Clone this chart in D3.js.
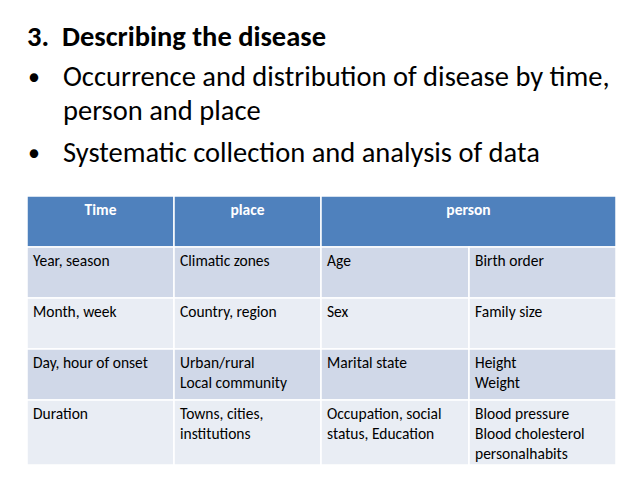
<!DOCTYPE html>
<html lang="en">
<head>
<meta charset="UTF-8">
<title>Describing the disease</title>
<script src="https://cdn.jsdelivr.net/npm/d3@7"></script>
<style>
 body { margin: 0; background: #fff; }
 text { font-family: Carlito, "Open Sans", "Liberation Sans", sans-serif; }
</style>
</head>
<body>
<script>
var headers = ["Time", "place", "person"];
var rows = [
  ["Year, season", "Climatic zones", "Age", "Birth order"],
  ["Month, week", "Country, region", "Sex", "Family size"],
  ["Day, hour of onset", "Urban/rural\nLocal community", "Marital state", "Height\nWeight"],
  ["Duration", "Towns, cities,\ninstitutions", "Occupation, social\nstatus, Education", "Blood pressure\nBlood cholesterol\npersonalhabits"]
];
var colEdges = [27, 174, 321, 469, 616];
var rowEdges = [196, 247, 298, 349, 400, 465];

var svg = d3.select("body").append("svg").attr("width", 638).attr("height", 478);

svg.append("text").attr("x", 27).attr("y", 46).attr("font-size", 28.5).attr("font-weight", "bold")
  .attr("fill", "#000").attr("xml:space", "preserve").text("3.  Describing the disease");
var bullets = [
  {y: 86, lines: ["Occurrence and distribution of disease by time,", "person and place"]},
  {y: 162, lines: ["Systematic collection and analysis of data"]}
];
bullets.forEach(function(b){
  svg.append("text").attr("x", 28).attr("y", b.y - 1).attr("font-size", 24).text("\u2022");
  b.lines.forEach(function(l, i){
    svg.append("text").attr("x", 63).attr("y", b.y + i * 34).attr("font-size", 28.5).text(l);
  });
});

var headerSpans = [[0, 1], [1, 2], [2, 4]];
headerSpans.forEach(function(s, i){
  svg.append("rect").attr("x", colEdges[s[0]]).attr("y", rowEdges[0])
    .attr("width", colEdges[s[1]] - colEdges[s[0]]).attr("height", rowEdges[1] - rowEdges[0])
    .attr("fill", "#4f81bd").attr("stroke", "#fff").attr("stroke-width", 1.5);
  svg.append("text").attr("x", (colEdges[s[0]] + colEdges[s[1]]) / 2).attr("y", rowEdges[0] + 19)
    .attr("text-anchor", "middle").attr("font-size", 15.5).attr("font-weight", "bold")
    .attr("fill", "#fff").text(headers[i]);
});

rows.forEach(function(r, ri){
  var y0 = rowEdges[ri + 1], y1 = rowEdges[ri + 2];
  r.forEach(function(c, ci){
    svg.append("rect").attr("x", colEdges[ci]).attr("y", y0)
      .attr("width", colEdges[ci + 1] - colEdges[ci]).attr("height", y1 - y0)
      .attr("fill", ri % 2 === 0 ? "#d0d8e8" : "#e9edf4").attr("stroke", "#fff").attr("stroke-width", 1.5);
    c.split("\n").forEach(function(l, li){
      svg.append("text").attr("x", colEdges[ci] + 6).attr("y", y0 + 19 + li * 20)
        .attr("font-size", 15.5).attr("fill", "#000").text(l);
    });
  });
});
</script>
</body>
</html>
